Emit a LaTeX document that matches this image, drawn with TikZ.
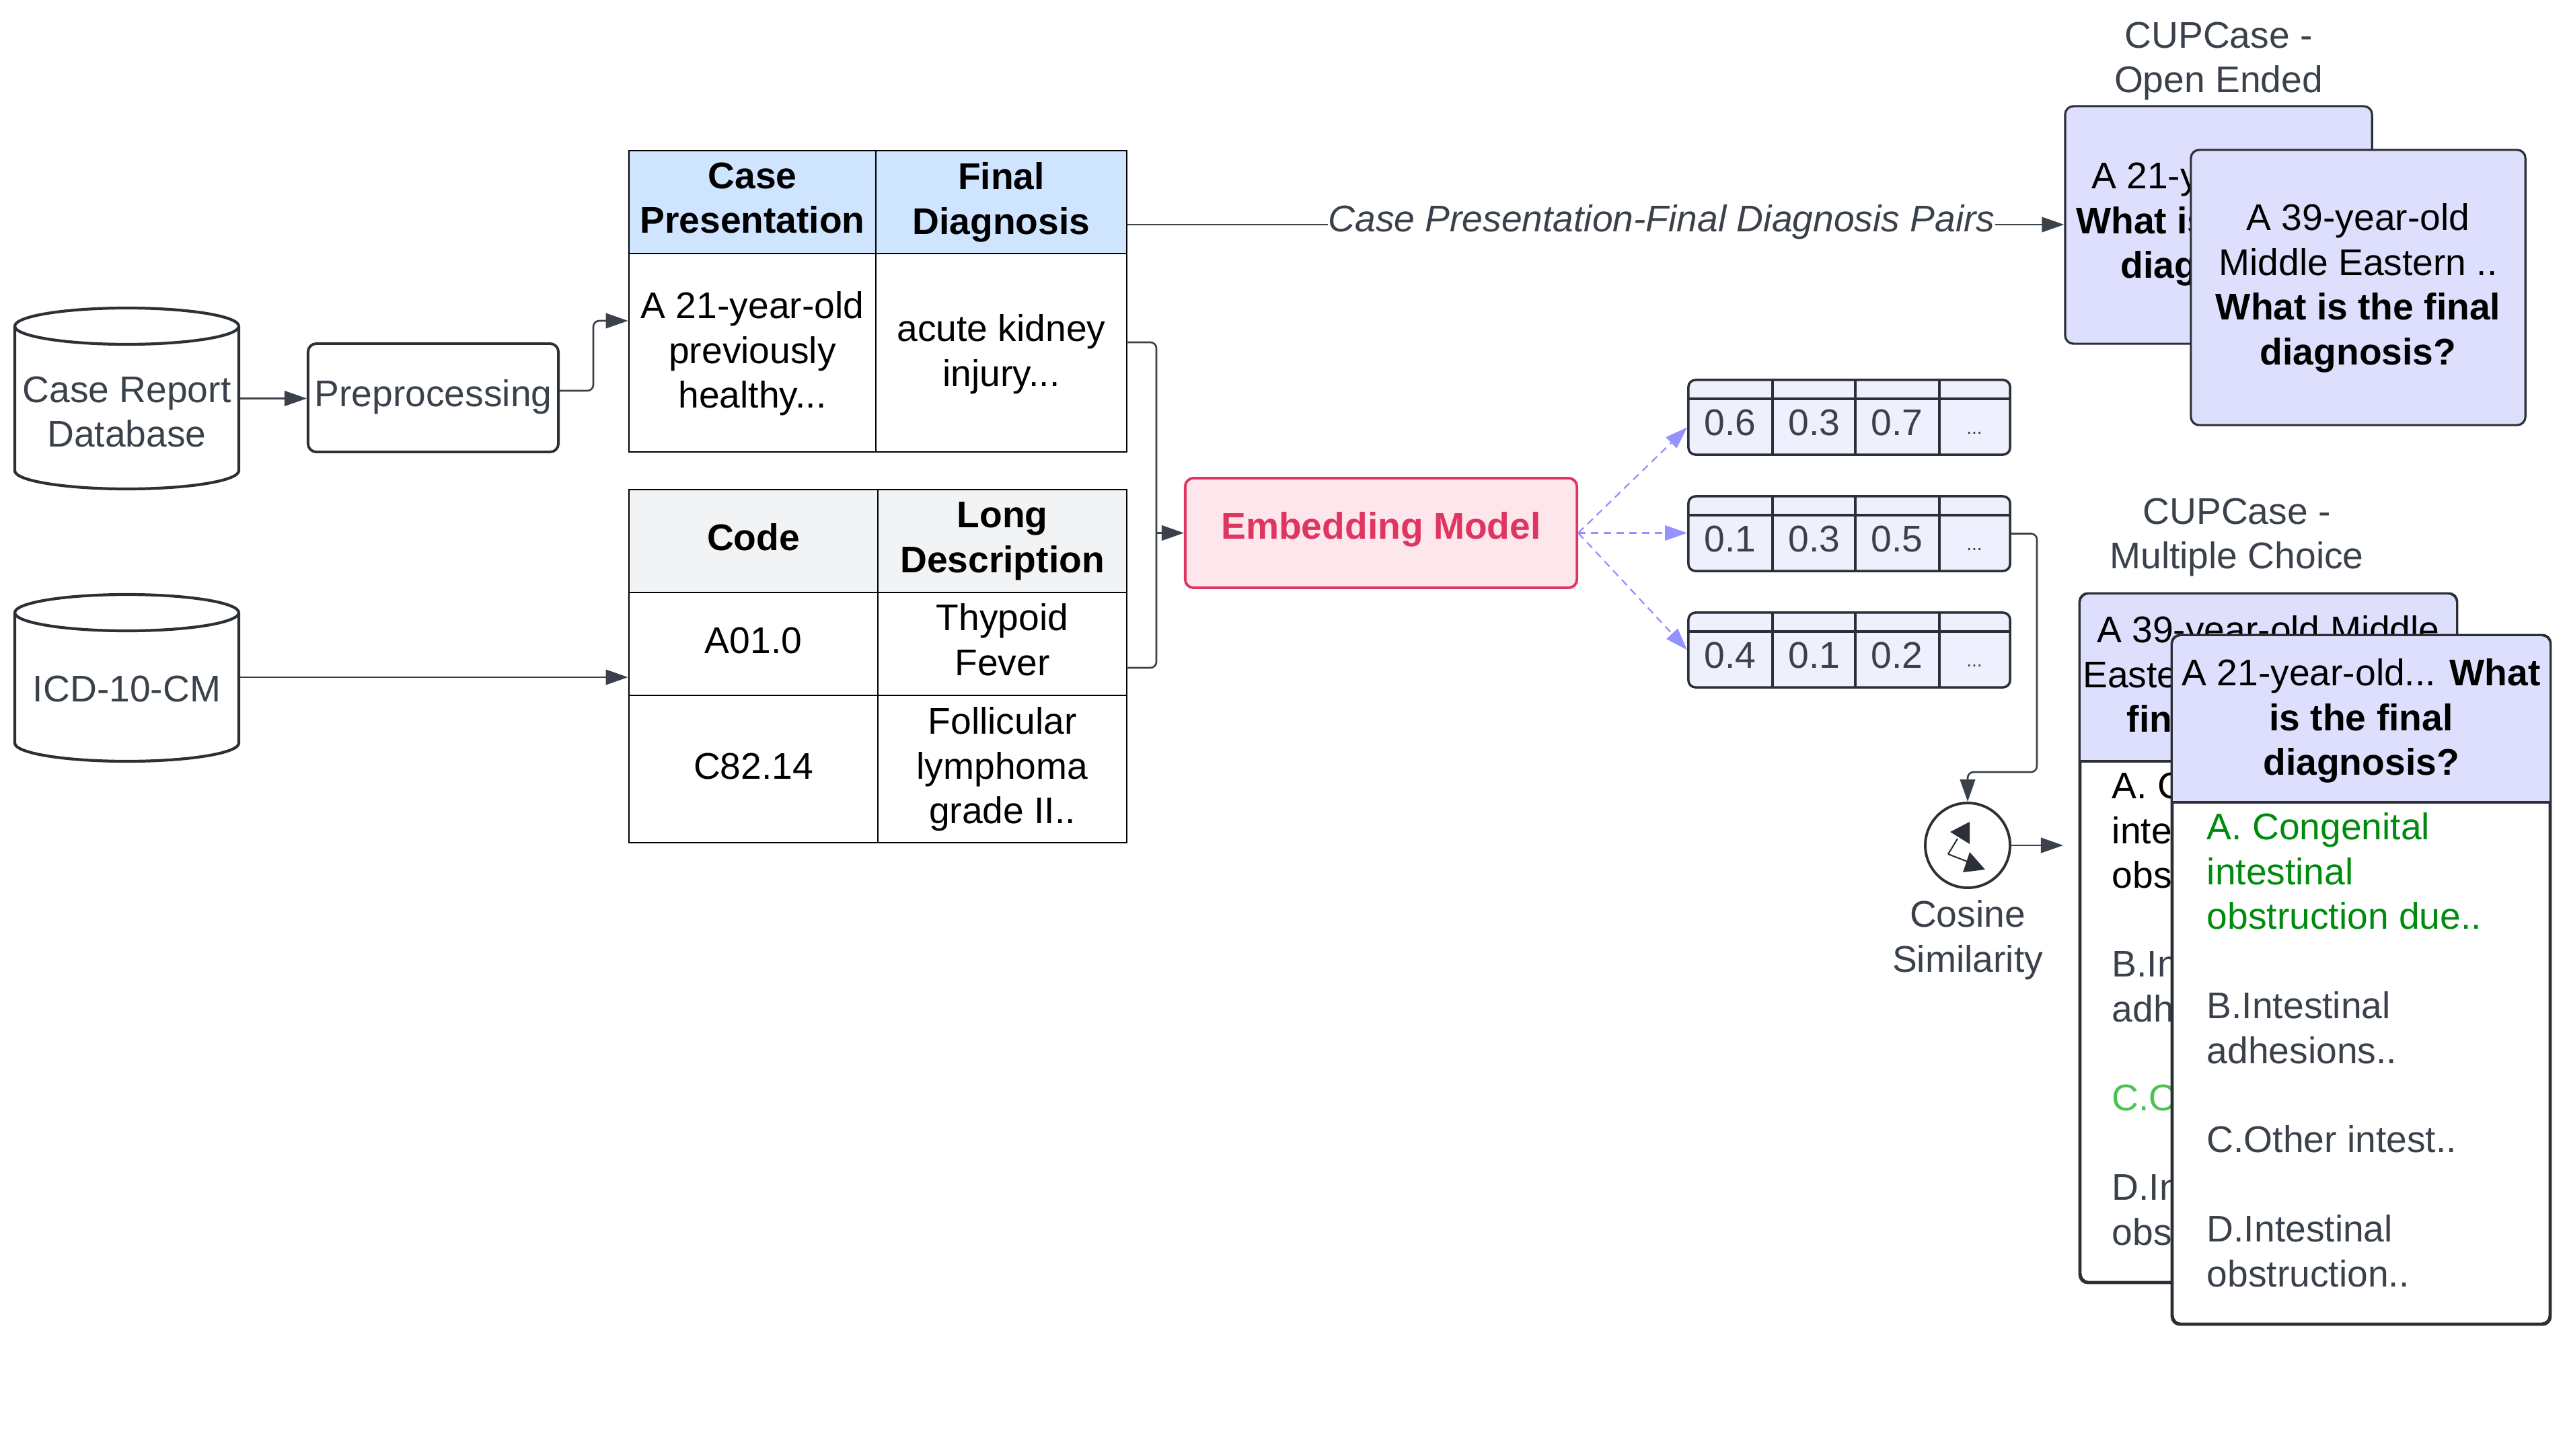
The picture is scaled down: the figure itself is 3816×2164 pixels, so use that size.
\documentclass[tikz,border=0pt]{standalone}
\usepackage{fontspec}
\setmainfont{Liberation Sans}
\usetikzlibrary{arrows.meta,calc}
\definecolor{myink}{HTML}{3A414A}
\definecolor{myedge}{HTML}{2B2F36}
\definecolor{hblue}{HTML}{CFE4FF}
\definecolor{hgray}{HTML}{F2F3F5}
\definecolor{lav}{HTML}{DEDFFC}
\definecolor{vfill}{HTML}{EFF0FE}
\definecolor{pinkf}{HTML}{FDE6EC}
\definecolor{crim}{HTML}{DF3561}
\definecolor{peri}{HTML}{9492FF}
\definecolor{gdark}{HTML}{008A0E}
\definecolor{glight}{HTML}{4CC254}
\begin{document}
\begin{tikzpicture}[x=0.01cm,y=-0.01cm,
  txt/.style={font=\fontsize{15.7}{18.9}\selectfont, text=myink, inner sep=0pt, align=center},
  btxt/.style={txt, text=black},
  hd/.style={btxt, font=\fontsize{15.7}{18.9}\selectfont\bfseries},
  lft/.style={txt, align=left, anchor=north west},
  conn/.style={draw=myink, line width=0.75pt, rounded corners=2.5pt, -{Triangle[length=9.4pt,width=6.4pt]}},
  plainline/.style={draw=myink, line width=0.75pt, rounded corners=2.5pt},
  dasharr/.style={draw=peri, line width=0.65pt, dash pattern=on 3.2pt off 2.2pt, -{Triangle[length=9.4pt,width=6.4pt]}},
  tbl/.style={draw=black, line width=0.7pt, inner sep=0pt},
  tl/.style={draw=black, line width=0.7pt},
  rbox/.style={draw=myedge, line width=1.1pt, rounded corners=3.5pt, inner sep=0pt},
  cyl/.style={draw=myedge, line width=1.2pt, fill=white},
  card/.style={draw=myedge, line width=0.9pt, rounded corners=3.5pt, inner sep=0pt},
  vec/.style={draw=myedge, fill=vfill, line width=1pt, rounded corners=3pt, inner sep=0pt, minimum width=4.78cm, minimum height=1.11cm},
  vl/.style={draw=myedge, line width=1pt},
  num/.style={txt, anchor=base},
  dots/.style={txt, anchor=base, font=\fontsize{8}{9}\selectfont}
]
\fill[white] (0,0) rectangle (3816,2164);
\useasboundingbox (0,0) rectangle (3816,2164);

% ---------- cylinders ----------
\draw[cyl] (22,485) -- (22,700) arc[start angle=180,end angle=0,x radius=166.5,y radius=27] -- (355,485);
\draw[cyl] (188.5,485) ellipse[x radius=166.5,y radius=27];
\node[inner sep=0pt, minimum width=3.33cm, minimum height=2.69cm] (db1) at (188.5,592.5) {};
\node[txt, anchor=north] (db1t) at (188.5,559) {Case Report\\Database};

\draw[cyl] (22,911) -- (22,1105) arc[start angle=180,end angle=0,x radius=166.5,y radius=27] -- (355,911);
\draw[cyl] (188.5,911) ellipse[x radius=166.5,y radius=27];
\node[inner sep=0pt, minimum width=3.33cm, minimum height=2.48cm] (icd) at (188.5,1008) {};
\node[txt, anchor=base] (icdt) at (188.5,1043) {ICD-10-CM};

% ---------- preprocessing ----------
\node[rbox, fill=white, minimum width=3.72cm, minimum height=1.61cm] (pre) at (644,591.5) {};
\node[txt, anchor=base] (pret) at (644,604) {Preprocessing};

% ---------- table 1 ----------
\fill[hblue] (935,224) rectangle (1675,377);
\node[tbl, minimum width=7.40cm, minimum height=4.48cm] (tab1) at (1305,448) {};
\draw[tl] (935,377) -- (1675,377) (1302,224) -- (1302,672);
\node[hd, anchor=north] (h11) at (1118.5,241) {Case\\Presentation};
\node[hd, anchor=north] (h12) at (1488.5,241) {Final\\Diagnosis};
\node[btxt, anchor=north] (c11) at (1118.5,433) {A 21-year-old\\previously\\healthy...};
\node[btxt, anchor=north] (c12) at (1488.5,467) {acute kidney\\injury...};

% ---------- table 2 ----------
\fill[hgray] (935,728) rectangle (1675,881);
\node[tbl, minimum width=7.40cm, minimum height=5.25cm] (tab2) at (1305,990.5) {};
\draw[tl] (935,881) -- (1675,881) (935,1034) -- (1675,1034) (1305,728) -- (1305,1253);
\node[hd, anchor=north] (h21) at (1120,778) {Code};
\node[hd, anchor=north] (h22) at (1490,746) {Long\\Description};
\node[btxt, anchor=north] (c21) at (1120,932) {A01.0};
\node[btxt, anchor=north] (c22) at (1490,897) {Thypoid\\Fever};
\node[btxt, anchor=north] (c31) at (1120,1119) {C82.14};
\node[btxt, anchor=north] (c32) at (1490,1051) {Follicular\\lymphoma\\grade II..};

% ---------- embedding model ----------
\node[draw=crim, fill=pinkf, line width=1.1pt, rounded corners=3.5pt, inner sep=0pt, minimum width=5.82cm, minimum height=1.63cm] (emb) at (2053,792.5) {};
\node[txt, text=crim, font=\fontsize{15.7}{18.9}\selectfont\bfseries, anchor=base] (embt) at (2053,801) {Embedding Model};

% ---------- vectors ----------
\foreach \i/\t/\a/\b/\c in {1/565/0.6/0.3/0.7, 2/738/0.1/0.3/0.5, 3/911/0.4/0.1/0.2}{
  \node[vec] (v\i) at (2749,\t+55.5) {};
  \draw[vl] (2510,\t+28) -- (2988,\t+28);
  \draw[vl] (2635,\t) -- (2635,\t+111) (2758,\t) -- (2758,\t+111) (2883,\t) -- (2883,\t+111);
  \node[num] (v\i a) at (2572,\t+82) {\a};
  \node[num] (v\i b) at (2697,\t+82) {\b};
  \node[num] (v\i c) at (2820,\t+82) {\c};
  \node[dots] (v\i d) at (2935,\t+80) {...};
}

% ---------- cosine similarity ----------
\node[circle, draw=myedge, line width=1.1pt, fill=white, minimum size=1.26cm, inner sep=0pt] (cos) at (2925,1257) {};
\draw[myedge, line width=0.6pt] (2896,1270) -- (2910,1247);
\fill[myedge] (2899,1237) -- (2928,1222) -- (2928,1255) -- cycle;
\draw[myedge, line width=0.6pt] (2896,1270) -- (2927,1282);
\fill[myedge] (2918,1297) -- (2951,1293) -- (2928,1267) -- cycle;
\node[txt, anchor=north] (cost) at (2925,1338) {Cosine\\Similarity};

% ---------- open ended cards ----------
\node[txt, anchor=north] (oelab) at (3298,32) {CUPCase -\\Open Ended};
\node[card, fill=lav, minimum width=4.56cm, minimum height=3.53cm] (oeb) at (3298,334.5) {};
\node[btxt, anchor=north] (oebt) at (3298,240) {A 21-year-old...\\\textbf{What is the final}\\\textbf{diagnosis?}};
\node[card, fill=lav, minimum width=4.97cm, minimum height=4.09cm] (oef) at (3505.5,427.5) {};
\node[btxt, anchor=north] (oeft) at (3505.5,302) {A 39-year-old\\Middle Eastern ..\\\textbf{What is the final}\\\textbf{diagnosis?}};

% ---------- multiple choice cards ----------
\node[txt, anchor=north] (mclab) at (3325,740) {CUPCase -\\Multiple Choice};

\node[card, fill=white, minimum width=5.58cm, minimum height=10.22cm] (mcb) at (3372,1395) {};
\fill[lav, rounded corners=3.5pt] (3093,884) rectangle (3651,1132);
\fill[lav] (3093,1000) rectangle (3651,1132);
\draw[myedge, line width=0.9pt] (mcb.west |- 0,1132) -- (mcb.east |- 0,1132);
\draw[card] (mcb.south west) rectangle (mcb.north east);
\node[btxt, anchor=north] (mcbh) at (3372,915) {A 39-year-old Middle\\Eastern .. \textbf{What is the}\\\textbf{final diagnosis?}};
\node[lft, text=black] (mcba) at (3139,1147) {A. Congenital\\intestinal\\obstruction due..};
\node[lft] (mcbb) at (3139,1412) {B.Intestinal\\adhesions..};
\node[lft, text=glight] (mcbc) at (3139,1611) {C.Other intest..};
\node[lft] (mcbd) at (3139,1744) {D.Intestinal\\obstruction..};

\node[card, fill=white, minimum width=5.60cm, minimum height=10.22cm] (mcf) at (3510,1457) {};
\fill[lav, rounded corners=3.5pt] (3230,946) rectangle (3790,1193);
\fill[lav] (3230,1060) rectangle (3790,1193);
\draw[myedge, line width=0.9pt] (mcf.west |- 0,1193) -- (mcf.east |- 0,1193);
\draw[card] (mcf.south west) rectangle (mcf.north east);
\node[btxt, anchor=north] (mcfh) at (3510,979) {A 21-year-old... \textbf{What}\\\textbf{is the final}\\\textbf{diagnosis?}};
\node[lft, text=gdark] (mcfa) at (3280,1208) {A. Congenital\\intestinal\\obstruction due..};
\node[lft] (mcfb) at (3280,1474) {B.Intestinal\\adhesions..};
\node[lft] (mcfc) at (3280,1673) {C.Other intest..};
\node[lft] (mcfd) at (3280,1806) {D.Intestinal\\obstruction..};

% ---------- connectors ----------
\draw[conn] (db1.east) -- (pre.west |- db1.east);
\draw[conn] (pre.east |- 0,581) -- (882,581) -- (882,477) -- (tab1.west |- 0,477);
\draw[conn] (icd.east |- 0,1007) -- (tab2.west |- 0,1007);
\draw[plainline] (tab1.east |- 0,509) -- (1719,509) -- (1719,993) -- (tab2.east |- 0,993);
\coordinate (bj) at (1719,792.5);
\draw[conn] (bj) -- (emb.west);

\draw[conn] (tab1.east |- 0,334) -- (oeb.west |- 0,334);
\node[txt, font=\fontsize{15.7}{18.9}\selectfont\itshape, fill=white, anchor=base, inner xsep=0pt, inner ysep=2pt] (pairs) at (2470,344) {Case Presentation-Final Diagnosis Pairs};

\draw[dasharr] (emb.east) -- ($(v1.south west)!0.37!(v1.north west)$);
\draw[dasharr] (emb.east) -- (v2.west |- emb.east);
\draw[dasharr] (emb.east) -- (v3.west);

\coordinate (k1) at (3028,1148);
\draw[conn] (v2.east) -| (k1) -| (cos.north);
\coordinate (ce) at (3067,1257);
\draw[conn] (cos.east) -- (ce);
\end{tikzpicture}
\end{document}
